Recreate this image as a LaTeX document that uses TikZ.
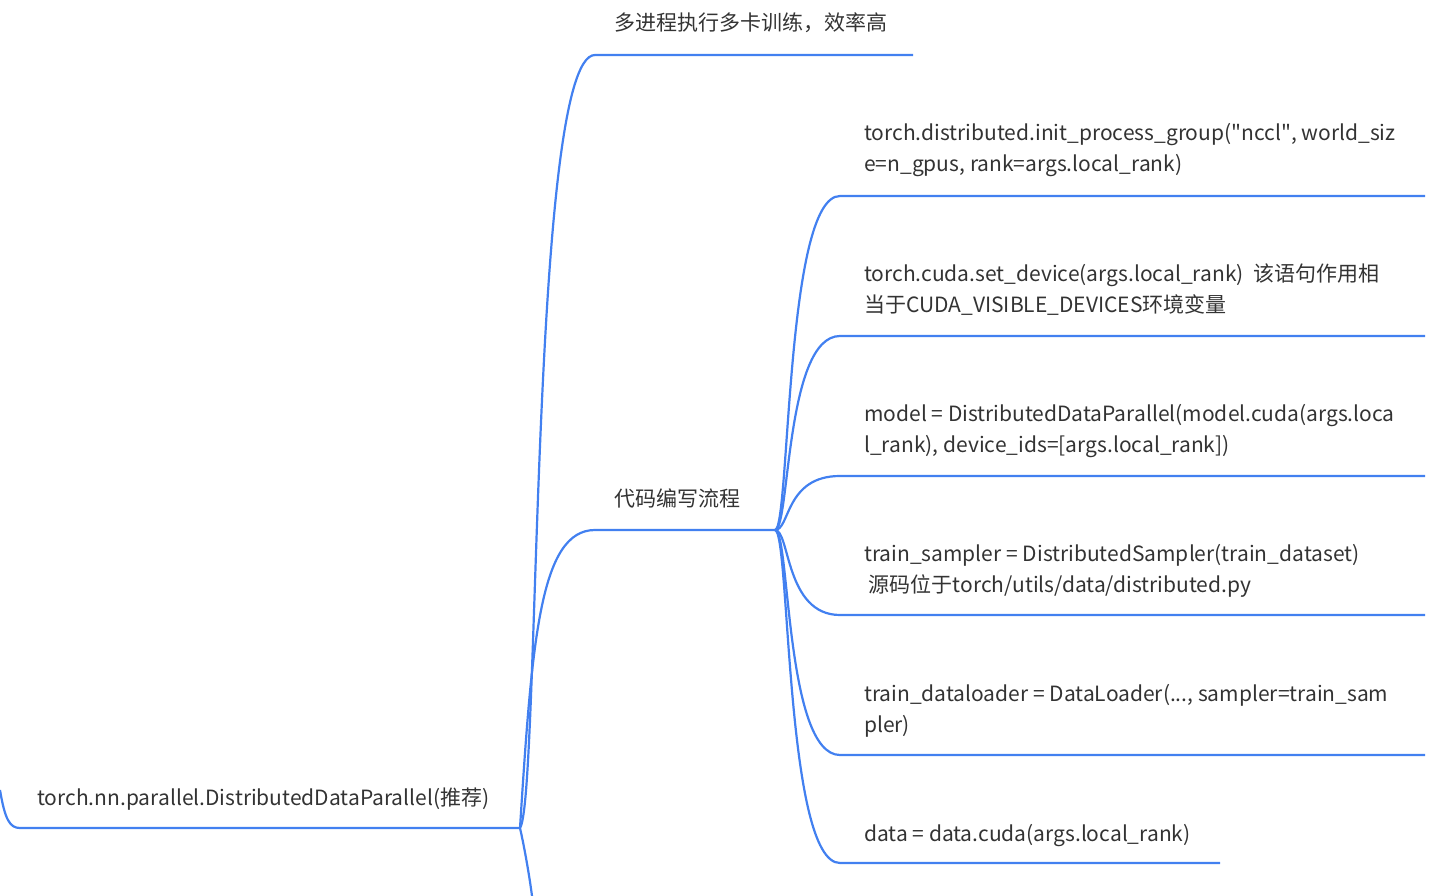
\documentclass[tikz,border=0pt]{standalone}
\usepackage{fontspec}
\setmainfont{Noto Sans CJK SC}
\begin{document}
\begin{tikzpicture}[x=1pt,y=-1pt,
  br/.style={draw={rgb,255:red,66;green,128;blue,240},line width=2.2pt},
  lbl/.style={anchor=base west,inner sep=0pt,font=\fontsize{21}{31}\selectfont,text=black!80,align=left}]
\useasboundingbox (0,0) rectangle (1440,896);
% root
\coordinate (r0) at (0,790);
\coordinate (r1) at (20,828);
\coordinate (r) at (520,828);
\node[lbl] (rt) at (37,805) {torch.nn.parallel.DistributedDataParallel(推荐)};
\draw[br] (r0) .. controls (5,820) and (10,828) .. (r1) -- (r);
% level 1
\coordinate (a0) at (595,55); \coordinate (a1) at (913,55);
\coordinate (b0) at (595,530); \coordinate (b) at (775,530);
\coordinate (c0) at (532,896);
\node[lbl] (at) at (614,31) {多进程执行多卡训练，效率高};
\node[lbl] (bt) at (614,506) {代码编写流程};
\draw[br] (r) .. controls (540,800) and (530,55) .. (a0) -- (a1);
\draw[br] (r) .. controls (532,640) and (540,530) .. (b0) -- (b);
\draw[br] (r) .. controls (525,850) and (530,880) .. (c0);
% level 2
\foreach \y/\e [count=\i] in {196/1425,336/1425,476/1425,615/1425,755/1425,863/1220}{
  \coordinate (s\i) at (840,\y);
  \coordinate (e\i) at (\e,\y);
  \draw[br] (b) .. controls (790,530) and (785,\y) .. (s\i) -- (e\i);
}
\node[lbl] (t1) at (864,172) {torch.distributed.init\_process\_group(\textquotedbl nccl\textquotedbl, world\_siz\\e=n\_gpus, rank=args.local\_rank)};
\node[lbl] (t2) at (864,312) {torch.cuda.set\_device(args.local\_rank)\ \ 该语句作用相\\当于CUDA\_VISIBLE\_DEVICES环境变量};
\node[lbl] (t3) at (864,452) {model = DistributedDataParallel(model.cuda(args.loca\\l\_rank), device\_ids=[args.local\_rank])};
\node[lbl] (t4) at (864,592) {train\_sampler = DistributedSampler(train\_dataset)\\\ 源码位于torch/utils/data/distributed.py};
\node[lbl] (t5) at (864,732) {train\_dataloader = DataLoader(..., sampler=train\_sam\\pler)};
\node[lbl] (t6) at (864,841) {data = data.cuda(args.local\_rank)};
\end{tikzpicture}
\end{document}
